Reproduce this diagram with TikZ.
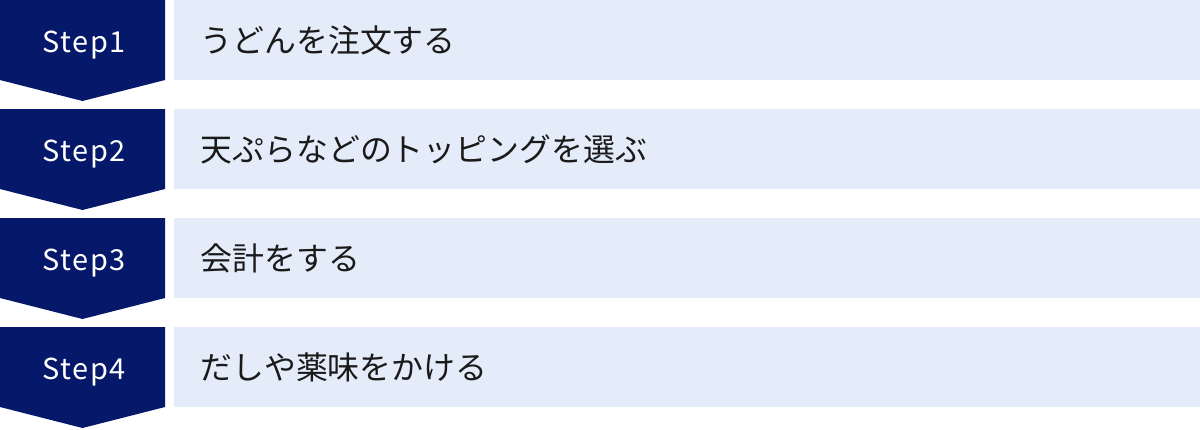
\documentclass[tikz,border=0pt]{standalone}
\usepackage{fontspec}
\setmainfont{Noto Sans CJK JP}
\definecolor{navy}{HTML}{05186A}
\definecolor{lightbox}{HTML}{E5ECF9}
\definecolor{txt}{HTML}{1A1A1A}
\begin{document}
\begin{tikzpicture}[x=1bp,y=-1bp,
  stepshape/.style={fill=navy},
  steplabel/.style={text=white,font=\fontsize{29}{32}\selectfont\addfontfeature{LetterSpace=6},inner sep=0pt,anchor=base},
  itembox/.style={fill=lightbox},
  itemlabel/.style={text=txt,font=\fontsize{32}{34}\selectfont,inner sep=0pt,anchor=west}]
\useasboundingbox[fill=white] (0,0) rectangle (1200,429);
\foreach \k/\lbl/\txt in {0/1/うどんを注文する,1/2/天ぷらなどのトッピングを選ぶ,2/3/会計をする,3/4/だしや薬味をかける}{
  \pgfmathsetmacro{\t}{109*\k}
  \fill[stepshape] (0,\t) -- (165,\t) -- (165,\t+80) -- (82.5,\t+101) -- (0,\t+80) -- cycle;
  \fill[itembox] (174,\t) rectangle (1200,\t+80);
  \node[steplabel] (step\lbl) at (84,\t+52.5) {Step\lbl};
  \node[itemlabel] (box\lbl) at (200.5,\t+40) {\txt};
}
\end{tikzpicture}
\end{document}
